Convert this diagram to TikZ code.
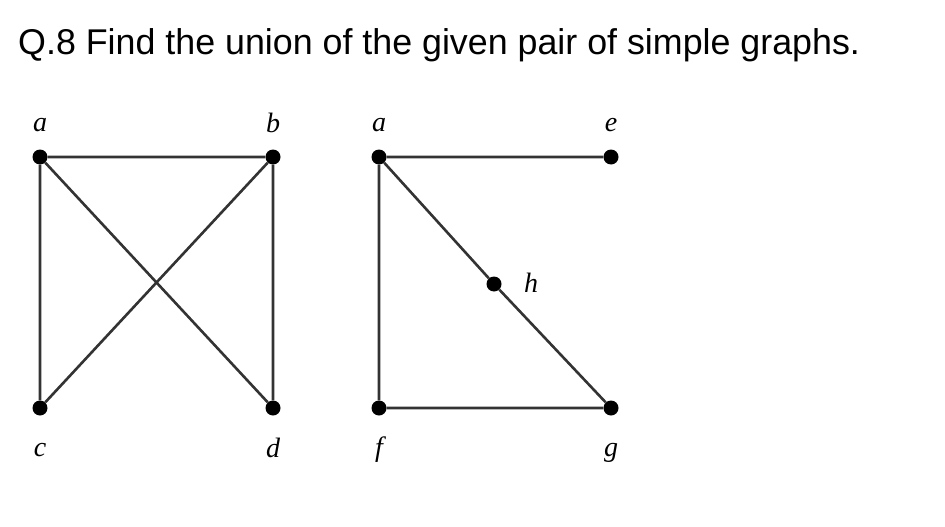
\documentclass[tikz,border=0pt]{standalone}
\usepackage{fontspec}
\setmainfont{Liberation Serif}
\newfontfamily\titlefont{Liberation Sans}
\begin{document}
\begin{tikzpicture}[x=1pt,y=-1pt,
  vtx/.style={circle,fill=black,inner sep=0pt,minimum size=15pt},
  edge/.style={line width=2.6pt,draw=black!80},
  lab/.style={font=\fontsize{28}{30}\selectfont\itshape}]
\useasboundingbox[fill=white] (0,0) rectangle (945,527);
\node[anchor=west,font=\titlefont\fontsize{35.8}{40}\selectfont,inner sep=0pt] (t) at (18,45) {Q.8 Find the union of the given pair of simple graphs.};
\node[vtx] (a1) at (40,157) {};
\node[vtx] (b) at (273,157) {};
\node[vtx] (c) at (40,408) {};
\node[vtx] (d) at (273,408) {};
\draw[edge] (a1)--(b) (a1)--(c) (a1)--(d) (b)--(c) (b)--(d);
\node[vtx] (a2) at (379,157) {};
\node[vtx] (e) at (611,157) {};
\node[vtx] (h) at (494,284) {};
\node[vtx] (f) at (379,408) {};
\node[vtx] (g) at (611,408) {};
\draw[edge] (a2)--(e) (a2)--(f) (a2)--(h) (h)--(g) (f)--(g);
\node[lab] (la1) at (40,125) {a};
\node[lab] (lb) at (273,123) {b};
\node[lab] (lc) at (40,450) {c};
\node[lab] (ld) at (273,448) {d};
\node[lab] (la2) at (379,125) {a};
\node[lab] (le) at (611,125) {e};
\node[lab] (lh) at (531,283) {h};
\node[lab] (lf) at (379,450) {f};
\node[lab] (lg) at (611,453) {g};
\end{tikzpicture}
\end{document}
